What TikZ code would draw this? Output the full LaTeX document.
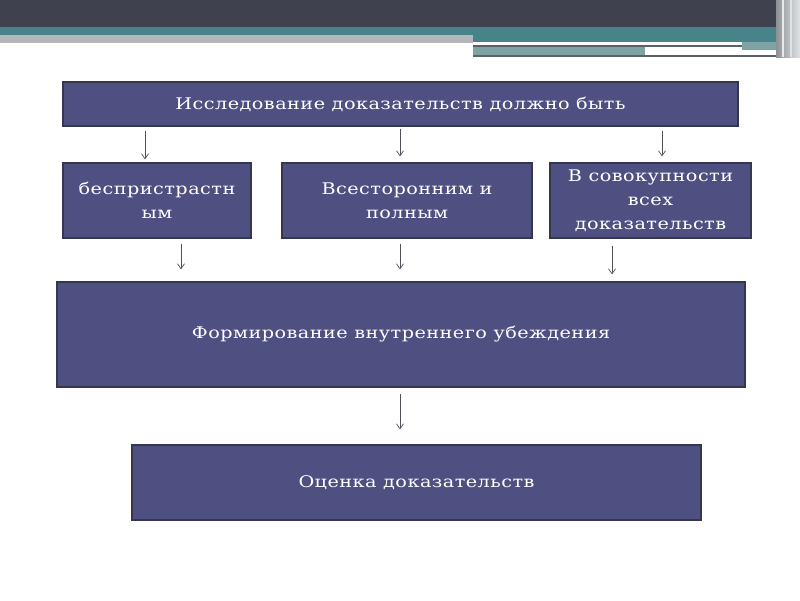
\documentclass[tikz,border=0pt]{standalone}
\usepackage{fontspec}
\setmainfont{DejaVu Serif}[FakeStretch=1.2, LetterSpace=3]
\usetikzlibrary{arrows.meta}
\definecolor{bandA}{HTML}{40414F}
\definecolor{bandT}{HTML}{46848A}
\definecolor{bandG}{HTML}{7FA3A5}
\definecolor{lgray}{HTML}{B4B6BA}
\definecolor{dline}{HTML}{5A6266}
\definecolor{boxfill}{HTML}{4F5082}
\definecolor{boxline}{HTML}{36374F}
\definecolor{arrcol}{HTML}{505058}
\tikzset{
  blk/.style={draw=boxline, line width=1.3pt, fill=boxfill, text=white, align=center, inner sep=0pt, font=\fontsize{16}{24}\selectfont},
  arr/.style={draw=arrcol, line width=0.7pt, -{Straight Barb[length=5pt,width=7pt]}}
}
\begin{document}
\begin{tikzpicture}[x=1pt,y=-1pt]
\useasboundingbox (0,0) rectangle (800,600);
\fill[white] (0,0) rectangle (800,600);
% header
\fill[bandA] (0,0) rectangle (776,27);
\fill[bandT] (0,27) rectangle (776,35);
\fill[bandT] (473,35) rectangle (776,42);
\fill[lgray] (0,35) rectangle (473,43);
\fill[white] (473,42) rectangle (742,45);
\fill[dline] (473,45) rectangle (742,47);
\fill[bandG] (473,47) rectangle (645,55);
\fill[bandG] (742,42) rectangle (776,50);
\fill[white] (645,50) rectangle (776,55);
\fill[dline] (473,55) rectangle (776,57);
\fill[left color=dline!70, right color=lgray!40] (776,0) rectangle (800,57);
\fill[white!70!lgray] (782,0) rectangle (784,57);
\fill[white!60!lgray] (790,0) rectangle (792,57);
% boxes
\node[blk, minimum width=675pt, minimum height=44pt] (top) at (400.5,104) {Исследование доказательств должно быть};
\node[blk, minimum width=188pt, minimum height=75pt] (b1) at (157,200.5) {беспристрастн\\ым};
\node[blk, minimum width=250pt, minimum height=75pt] (b2) at (407,200.5) {Всесторонним и\\полным};
\node[blk, minimum width=201pt, minimum height=75pt] (b3) at (650.5,200.5) {В совокупности\\всех\\доказательств};
\node[blk, minimum width=688pt, minimum height=105pt] (big) at (401,334.5) {Формирование внутреннего убеждения};
\node[blk, minimum width=569pt, minimum height=75pt] (bot) at (416.5,482.5) {Оценка доказательств};
% arrows
\draw[arr, shorten <=4pt, shorten >=3pt] (top.south -| 145,0) -- (b1.north -| 145,0);
\draw[arr, shorten <=2pt, shorten >=6pt] (top.south -| 400,0) -- (b2.north -| 400,0);
\draw[arr, shorten <=4pt, shorten >=6pt] (top.south -| 662,0) -- (b3.north -| 662,0);
\draw[arr, shorten <=5pt, shorten >=12pt] (b1.south -| 181,0) -- (big.north -| 181,0);
\draw[arr, shorten <=5pt, shorten >=12pt] (b2.south -| 400,0) -- (big.north -| 400,0);
\draw[arr, shorten <=7pt, shorten >=7pt] (b3.south -| 612,0) -- (big.north -| 612,0);
\draw[arr, shorten <=6pt, shorten >=15pt] (big.south -| 400,0) -- (bot.north -| 400,0);
\end{tikzpicture}
\end{document}
